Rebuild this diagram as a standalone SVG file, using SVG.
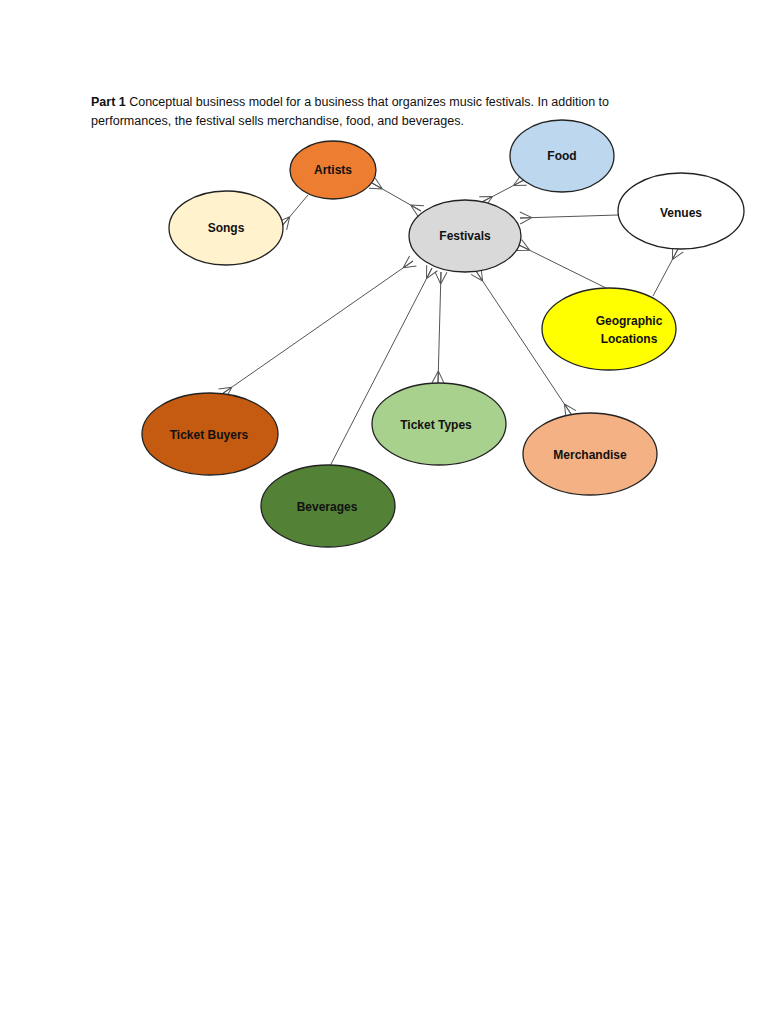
<svg xmlns="http://www.w3.org/2000/svg" width="768" height="1024" viewBox="0 0 768 1024">
<style>
.n{stroke:#222;stroke-width:1.3}
.t{font-family:"Liberation Sans",Arial,sans-serif;font-size:12px;font-weight:bold;fill:#111;text-anchor:middle}
.h{font-family:"Liberation Sans",Arial,sans-serif;font-size:12px;fill:#111}
#conn line{stroke:#555;stroke-width:1}
</style>
<defs>
<marker id="crow" viewBox="-14 -8 16 16" markerWidth="16" markerHeight="16" refX="0" refY="0" orient="auto-start-reverse" markerUnits="userSpaceOnUse">
<path d="M-12 0L0 -6M-12 0L0 6M-12 0L0 0" fill="none" stroke="#555" stroke-width="1"/>
</marker>
</defs>
<rect width="768" height="1024" fill="#fff"/>
<text class="h" x="91" y="106" textLength="518" lengthAdjust="spacingAndGlyphs"><tspan font-weight="bold">Part 1</tspan> Conceptual business model for a business that organizes music festivals. In addition to</text>
<text class="h" x="91" y="125" textLength="373" lengthAdjust="spacingAndGlyphs">performances, the festival sells merchandise, food, and beverages.</text>
<g id="conn">
<line x1="282" y1="226" x2="308" y2="195" marker-start="url(#crow)"/>
<line x1="372" y1="183" x2="421" y2="211" marker-start="url(#crow)" marker-end="url(#crow)"/>
<line x1="524" y1="180" x2="482" y2="202" marker-start="url(#crow)" marker-end="url(#crow)"/>
<line x1="618" y1="215" x2="520" y2="218" marker-end="url(#crow)"/>
<line x1="606" y1="288" x2="519" y2="245" marker-end="url(#crow)"/>
<line x1="653" y1="296" x2="678" y2="249" marker-end="url(#crow)"/>
<line x1="222" y1="394" x2="413" y2="261" marker-start="url(#crow)" marker-end="url(#crow)"/>
<line x1="330" y1="466" x2="432" y2="268" marker-end="url(#crow)"/>
<line x1="438" y1="383" x2="441" y2="272" marker-start="url(#crow)" marker-end="url(#crow)"/>
<line x1="571" y1="414" x2="476" y2="271" marker-start="url(#crow)" marker-end="url(#crow)"/>
</g>
<g id="artists"><ellipse class="n" cx="333" cy="170" rx="43" ry="29" fill="#ed7d31"/><text class="t" x="333" y="174">Artists</text></g>
<g id="songs"><ellipse class="n" cx="226" cy="228" rx="57" ry="37" fill="#fff2cc"/><text class="t" x="226" y="232">Songs</text></g>
<g id="food"><ellipse class="n" cx="562" cy="156" rx="52" ry="36" fill="#bdd7ee"/><text class="t" x="562" y="160">Food</text></g>
<g id="festivals"><ellipse class="n" cx="465" cy="236" rx="56" ry="36" fill="#d9d9d9"/><text class="t" x="465" y="240">Festivals</text></g>
<g id="venues"><ellipse class="n" cx="681" cy="211" rx="63" ry="38" fill="#fff"/><text class="t" x="681" y="217">Venues</text></g>
<g id="geo"><ellipse class="n" cx="609" cy="329" rx="67" ry="41" fill="#ffff00"/><text class="t" x="629" y="325">Geographic</text><text class="t" x="629" y="343">Locations</text></g>
<g id="buyers"><ellipse class="n" cx="210" cy="434" rx="68" ry="41" fill="#c55a11"/><text class="t" x="209" y="439">Ticket Buyers</text></g>
<g id="beverages"><ellipse class="n" cx="328" cy="506" rx="67" ry="41" fill="#538135"/><text class="t" x="327" y="511">Beverages</text></g>
<g id="types"><ellipse class="n" cx="439" cy="424" rx="67" ry="41" fill="#a9d18e"/><text class="t" x="436" y="429">Ticket Types</text></g>
<g id="merch"><ellipse class="n" cx="590" cy="454" rx="67" ry="41" fill="#f4b183"/><text class="t" x="590" y="459">Merchandise</text></g>
</svg>
